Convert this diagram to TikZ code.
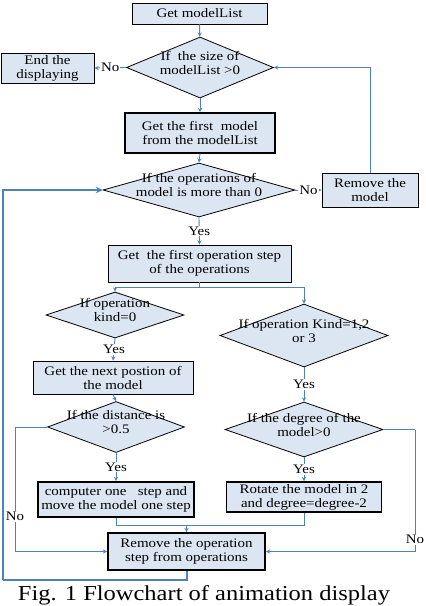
\documentclass[tikz,border=0pt]{standalone}
\usepackage{fontspec}
\setmainfont{Liberation Serif}[FakeStretch=1.15]
\usetikzlibrary{shapes.geometric, arrows.meta, positioning}
\definecolor{boxfill}{RGB}{220,230,242}
\definecolor{lineblue}{RGB}{79,129,189}
\newcommand{\dtxt}[1]{\makebox[0pt]{\smash{\begin{tabular}{@{}c@{}}#1\end{tabular}}}}
\tikzset{
    process/.style={rectangle, draw, fill=boxfill, line width=0.9pt, inner sep=0pt, align=center, font=\fontsize{13}{14}\selectfont},
    keybox/.style={process, line width=1.8pt},
    decision/.style={diamond, draw, fill=boxfill, line width=0.8pt, inner sep=0pt, font=\fontsize{13}{14}\selectfont},
    flow/.style={->, >=stealth, draw=lineblue, line width=0.9pt},
    link/.style={draw=lineblue, line width=0.9pt},
    backloop/.style={->, >=stealth, draw=lineblue, line width=2pt},
    answer/.style={fill=white, inner sep=1pt, font=\fontsize{13}{14}\selectfont}
}
\begin{document}
\begin{tikzpicture}[x=1pt, y=-1pt]
    \useasboundingbox (0,0) rectangle (426,606);

    % Model loop
    \node[process, minimum width=135, minimum height=21] (get_list) at (199.5,13.5) {Get modelList};
    \node[decision, minimum width=147, minimum height=61] (size_check) at (200,67.5) {\dtxt{If\ \ the size of\\ modelList >0}};
    \node[process, minimum width=93, minimum height=30] (end_disp) at (47.5,68) {End the\\ displaying};
    \node[keybox, minimum width=150, minimum height=40] (first_model) at (200,133) {Get the first\ \ model\\ from the modelList};
    \node[decision, minimum width=192, minimum height=54] (ops_check) at (199,190) {\dtxt{If the operations of\\ model is more than 0}};
    \node[process, minimum width=96, minimum height=34] (remove_model) at (370,190) {Remove the\\ model};

    % Operation steps
    \node[process, minimum width=183, minimum height=37] (first_op) at (199.5,263.5) {Get\ \ the first operation step\\ of the operations};
    \node[decision, minimum width=138, minimum height=46] (kind_zero) at (115,315) {\dtxt{If operation\\ kind=0}};
    \node[decision, minimum width=168, minimum height=63] (kind_rot) at (304,335.5) {\dtxt{If operation Kind=1,2\\ or 3}};
    \node[process, minimum width=160, minimum height=33] (next_pos) at (113,377.5) {Get the next postion of\\ the model};
    \node[decision, minimum width=137, minimum height=51] (dist_check) at (116,427) {\dtxt{If the distance is\\ >0.5}};
    \node[decision, minimum width=158, minimum height=55] (deg_check) at (304,429.5) {\dtxt{If the degree of the\\ model>0}};
    \node[keybox, minimum width=156, minimum height=35] (move_step) at (116,499.5) {computer one\ \ \ step and\\ move the model one step};
    \node[keybox, minimum width=155, minimum height=30] (rotate) at (304,497) {Rotate the model in 2\\ and degree=degree-2};
    \node[keybox, minimum width=157, minimum height=37] (remove_op) at (186.5,551.5) {Remove the operation\\ step from operations};

    % Caption
    \node[font=\fontsize{21.3}{24}\selectfont] (caption) at (204,595) {Fig. 1 Flowchart of animation display};

    % Helper points
    \coordinate (split) at (199.5,287);
    \coordinate (merge) at (186.5,525);
    \coordinate (left_turn) at (15,427);
    \coordinate (right_turn) at (415,429.5);
    \coordinate (back) at (3,580);

    % Model loop flows
    \draw[flow] (get_list) -- (size_check);
    \draw[flow] (size_check.west) -- node[answer] (no_end) {No} (end_disp.east);
    \draw[flow] (size_check.south) -- (first_model.north);
    \draw[flow] (first_model.south) -- (ops_check.north);
    \draw[flow] (ops_check.east) -- node[answer] (no_ops) {No} (remove_model.west);
    \draw[flow] (remove_model.north) |- (size_check.east);
    \draw[flow] (ops_check.south) -- node[answer] (yes_ops) {Yes} (first_op.north);

    % Branches
    \draw[link] (first_op.south) -- (split);
    \draw[flow] (split) -| (kind_zero.north);
    \draw[flow] (split) -| (kind_rot.north);
    \draw[flow] (kind_zero.south) -- node[answer] (yes_zero) {Yes} (next_pos.north);
    \draw[flow] (next_pos.south) -- (dist_check.north);
    \draw[flow] (kind_rot.south) -- node[answer] (yes_rot) {Yes} (deg_check.north);
    \draw[flow] (dist_check.south) -- node[answer] (yes_dist) {Yes} (move_step.north);
    \draw[flow] (deg_check.south) -- node[answer] (yes_deg) {Yes} (rotate.north);

    % Back to removal
    \draw[link] (dist_check.west) -- (left_turn);
    \draw[flow] (left_turn) |- node[answer, pos=0.36] (no_dist) {No} (remove_op.west);
    \draw[link] (deg_check.east) -- (right_turn);
    \draw[flow] (right_turn) |- node[answer, pos=0.45] (no_deg) {No} (remove_op.east);
    \draw[link] (move_step.south) |- (merge);
    \draw[link] (rotate.south) |- (merge);
    \draw[flow] (merge) -- (remove_op.north);

    % Loop back
    \draw[link, line width=2pt] (remove_op.south) |- (back);
    \draw[backloop] (back) |- (ops_check.west);
\end{tikzpicture}
\end{document}
